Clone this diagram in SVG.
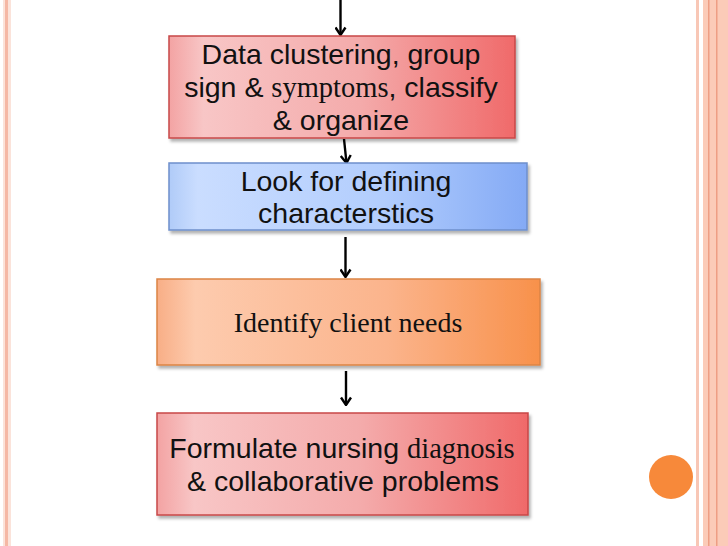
<svg xmlns="http://www.w3.org/2000/svg" width="728" height="546" viewBox="0 0 728 546">
<defs>
<linearGradient id="gRed" x1="0" y1="0" x2="1" y2="0">
<stop offset="0" stop-color="#F3A3A3"/>
<stop offset="0.1" stop-color="#F8C6C6"/>
<stop offset="0.55" stop-color="#F4ABAB"/>
<stop offset="1" stop-color="#F06A6A"/>
</linearGradient>
<linearGradient id="gBlue" x1="0" y1="0" x2="1" y2="0">
<stop offset="0" stop-color="#B0CBF8"/>
<stop offset="0.08" stop-color="#CADDFF"/>
<stop offset="0.6" stop-color="#B2CDFD"/>
<stop offset="1" stop-color="#84AAF5"/>
</linearGradient>
<linearGradient id="gOrange" x1="0" y1="0" x2="1" y2="0">
<stop offset="0" stop-color="#F8AE86"/>
<stop offset="0.1" stop-color="#FDCBAE"/>
<stop offset="0.6" stop-color="#FBB48C"/>
<stop offset="1" stop-color="#F8914B"/>
</linearGradient>
<filter id="sh" x="-5%" y="-5%" width="115%" height="125%">
<feDropShadow dx="2" dy="3" stdDeviation="1.5" flood-color="#000" flood-opacity="0.3"/>
</filter>
<marker id="ah" viewBox="0 0 12 12" refX="11" refY="6" markerWidth="12" markerHeight="12" markerUnits="userSpaceOnUse" orient="auto">
<path d="M3.5,1 L11,6 L3.5,11" fill="none" stroke="#000" stroke-width="2.4"/>
</marker>
</defs>
<style>
.sans{font-family:"Liberation Sans",Arial,sans-serif;font-size:28.5px;fill:#111}
.serif{font-family:"Liberation Serif","Times New Roman",serif;fill:#111}
.con line{stroke:#000;stroke-width:2.4;fill:none}
</style>
<rect width="728" height="546" fill="#fff"/>
<g id="frame">
<rect x="3" y="0" width="8" height="546" fill="#FBE3DA"/>
<rect x="5" y="0" width="3" height="546" fill="#F5B8A5"/>
<rect x="696" y="0" width="3" height="546" fill="#F8C7B6"/>
<rect x="703" y="0" width="25" height="546" fill="#FBCBB8"/>
<rect x="708" y="0" width="1.5" height="546" fill="#EE9E84"/>
<rect x="716" y="0" width="1.5" height="546" fill="#EE9E84"/>
<circle cx="671" cy="477" r="22" fill="#F7893A"/>
</g>
<g class="con">
<line x1="340.5" y1="0" x2="340.5" y2="35" marker-end="url(#ah)"/>
<line x1="344" y1="139" x2="346.5" y2="163" marker-end="url(#ah)"/>
<line x1="345.5" y1="237" x2="345.5" y2="277" marker-end="url(#ah)"/>
<line x1="346" y1="371" x2="346" y2="405" marker-end="url(#ah)"/>
</g>
<g id="n1">
<rect x="169" y="36" width="346" height="102" fill="url(#gRed)" stroke="#C84848" stroke-width="1.5" filter="url(#sh)"/>
<text class="sans" x="341" y="64" text-anchor="middle">Data clustering, group</text>
<text class="sans" x="341" y="97" text-anchor="middle">sign &amp; <tspan class="serif">symptoms</tspan>, classify</text>
<text class="sans" x="341" y="130" text-anchor="middle">&amp; organize</text>
</g>
<g id="n2">
<rect x="169" y="163" width="358" height="67" fill="url(#gBlue)" stroke="#6E8FCB" stroke-width="1.5" filter="url(#sh)"/>
<text class="sans" x="346" y="191" text-anchor="middle">Look for defining</text>
<text class="sans" x="346" y="223" text-anchor="middle">characterstics</text>
</g>
<g id="n3">
<rect x="157" y="279" width="383" height="86" fill="url(#gOrange)" stroke="#DB8444" stroke-width="1.5" filter="url(#sh)"/>
<text class="serif" x="348" y="332" font-size="28" text-anchor="middle">Identify client needs</text>
</g>
<g id="n4">
<rect x="157" y="413" width="371" height="102" fill="url(#gRed)" stroke="#C84848" stroke-width="1.5" filter="url(#sh)"/>
<text class="sans" x="342" y="458" text-anchor="middle">Formulate nursing <tspan class="serif">diagnosis</tspan></text>
<text class="sans" x="343" y="491" text-anchor="middle">&amp; collaborative problems</text>
</g>
</svg>
